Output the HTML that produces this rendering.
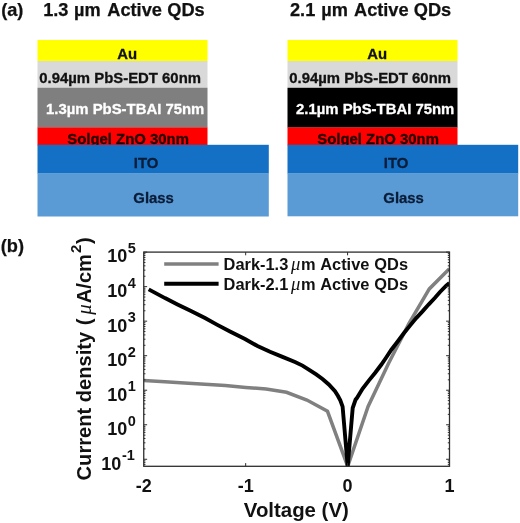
<!DOCTYPE html>
<html>
<head>
<meta charset="utf-8">
<title>Figure</title>
<style>
html,body{margin:0;padding:0;background:#fff;}
body{width:520px;height:523px;overflow:hidden;}
svg{display:block;}
text{font-family:"Liberation Sans",Arial,sans-serif;font-weight:bold;}
.lay{font-size:14.9px;stroke-width:0.3px;}
.ttl{font-size:18.2px;fill:#111;stroke:#111;stroke-width:0.25px;}
.tk{font-size:18px;fill:#111;}
.sup{font-size:14.5px;fill:#111;}
.lg{font-size:16.4px;fill:#111;}
.al{font-size:20.1px;fill:#111;}
.al2{font-size:20.4px;fill:#111;}
.sup2{font-size:14.8px;}
.mu{font-family:"Liberation Serif","DejaVu Serif",serif;font-style:italic;font-weight:normal;font-size:21px;}
.mu2{font-family:"Liberation Serif","DejaVu Serif",serif;font-style:italic;font-weight:normal;font-size:18.6px;}
</style>
</head>
<body>
<svg width="520" height="523" viewBox="0 0 520 523">
<rect x="0" y="0" width="520" height="523" fill="#ffffff"/>

<!-- titles -->
<text class="ttl" x="1.2" y="15.9">(a)</text>
<text class="ttl" y="15.9"><tspan x="43.2">1.3</tspan> <tspan x="74">µm</tspan> <tspan x="107.3">Active</tspan> <tspan x="167.3">QDs</tspan></text>
<text class="ttl" y="15.9"><tspan x="290">2.1</tspan> <tspan x="321.3">µm</tspan> <tspan x="354">Active</tspan> <tspan x="413.8">QDs</tspan></text>

<!-- left stack -->
<rect x="37.5" y="40" width="170" height="21.2" fill="#ffff00"/>
<rect x="37.5" y="61" width="170" height="27" fill="#d9d9d9"/>
<rect x="37.5" y="87.8" width="170" height="39.8" fill="#7f7f7f"/>
<rect x="37.5" y="127.4" width="170" height="18" fill="#ff0000"/>
<text class="lay" x="117.3" y="59" fill="#111" stroke="#111">Au</text>
<text class="lay" x="39.3" y="83" fill="#111" stroke="#111">0.94µm PbS-EDT 60nm</text>
<text class="lay" x="46" y="114" fill="#fff" stroke="#fff">1.3µm PbS-TBAI 75nm</text>
<text class="lay" x="67.3" y="143.6" fill="#240000" stroke="#240000">Solgel ZnO 30nm</text>
<rect x="37.5" y="144.8" width="231.3" height="28.8" fill="#1470c4"/>
<rect x="37.5" y="173.3" width="231.3" height="43.2" fill="#5b9bd5"/>
<text class="lay" x="133.8" y="168" fill="#0a1c38" stroke="#0a1c38">ITO</text>
<text class="lay" x="133.3" y="203" fill="#0a1c38" stroke="#0a1c38">Glass</text>

<!-- right stack -->
<rect x="287.5" y="40" width="170" height="21.2" fill="#ffff00"/>
<rect x="287.5" y="61" width="170" height="27" fill="#d9d9d9"/>
<rect x="287.5" y="87.8" width="170" height="39.8" fill="#000000"/>
<rect x="287.5" y="127.4" width="170" height="18" fill="#ff0000"/>
<text class="lay" x="367.3" y="59" fill="#111" stroke="#111">Au</text>
<text class="lay" x="289.3" y="83" fill="#111" stroke="#111">0.94µm PbS-EDT 60nm</text>
<text class="lay" x="296" y="114" fill="#fff" stroke="#fff">2.1µm PbS-TBAI 75nm</text>
<text class="lay" x="317.3" y="143.6" fill="#240000" stroke="#240000">Solgel ZnO 30nm</text>
<rect x="287.5" y="144.8" width="230.7" height="28.8" fill="#1470c4"/>
<rect x="287.5" y="173.3" width="230.7" height="43" fill="#5b9bd5"/>
<text class="lay" x="383.8" y="168" fill="#0a1c38" stroke="#0a1c38">ITO</text>
<text class="lay" x="383.3" y="203" fill="#0a1c38" stroke="#0a1c38">Glass</text>

<!-- (b) -->
<text class="ttl" x="0.8" y="251.6">(b)</text>

<!-- plot -->
<clipPath id="pc"><rect x="143.75" y="252.10" width="306.35" height="214.80"/></clipPath>
<g clip-path="url(#pc)" fill="none" stroke-linejoin="miter" stroke-miterlimit="10">
<path d="M143.8 380.6 L165.0 381.7 L184.5 382.9 L204.9 384.2 L225.3 385.6 L245.7 387.4 L266.1 389.0 L286.5 392.3 L306.9 400.0 L327.5 411.3 L347.7 466.4 L368.1 406.5 L388.5 363.5 L408.9 323.7 L429.3 288.9 L449.4 268.8" stroke="#808080" stroke-width="3.5"/>
<path d="M148.7 289.4 L165.0 298.1 L177.5 304.4 L190.0 310.6 L205.0 318.1 L216.9 324.6 L230.0 331.5 L245.0 339.0 L257.5 346.0 L270.0 351.7 L282.5 356.9 L295.0 362.0 L302.5 365.6 L308.8 369.6 L316.2 374.4 L322.5 379.0 L328.8 384.4 L335.0 391.2 L338.0 396.0 L340.3 400.4 L342.6 406.6 L347.7 466.4 L352.7 408.0 L355.6 399.6 L356.9 398.1 L362.5 388.8 L368.8 380.6 L375.0 373.0 L381.2 364.8 L386.2 357.5 L391.2 350.0 L397.5 341.7 L403.8 333.3 L410.0 325.6 L416.2 318.1 L422.5 311.4 L428.8 304.3 L435.0 297.8 L440.0 292.0 L446.2 285.6 L449.4 283.0" stroke="#000000" stroke-width="3.9"/>
</g>
<rect x="143.75" y="252.10" width="305.75" height="214.20" fill="none" stroke="#2e2e2e" stroke-width="1.3"/>
<path d="M143.75 459.28h3.4M449.50 459.28h-3.4M143.75 448.89h1.7M449.50 448.89h-1.7M143.75 442.81h1.7M449.50 442.81h-1.7M143.75 438.49h1.7M449.50 438.49h-1.7M143.75 435.14h1.7M449.50 435.14h-1.7M143.75 432.41h1.7M449.50 432.41h-1.7M143.75 430.10h1.7M449.50 430.10h-1.7M143.75 428.10h1.7M449.50 428.10h-1.7M143.75 426.33h1.7M449.50 426.33h-1.7M143.75 424.75h3.4M449.50 424.75h-3.4M143.75 414.36h1.7M449.50 414.36h-1.7M143.75 408.28h1.7M449.50 408.28h-1.7M143.75 403.96h1.7M449.50 403.96h-1.7M143.75 400.61h1.7M449.50 400.61h-1.7M143.75 397.88h1.7M449.50 397.88h-1.7M143.75 395.57h1.7M449.50 395.57h-1.7M143.75 393.57h1.7M449.50 393.57h-1.7M143.75 391.80h1.7M449.50 391.80h-1.7M143.75 390.22h3.4M449.50 390.22h-3.4M143.75 379.83h1.7M449.50 379.83h-1.7M143.75 373.75h1.7M449.50 373.75h-1.7M143.75 369.43h1.7M449.50 369.43h-1.7M143.75 366.08h1.7M449.50 366.08h-1.7M143.75 363.35h1.7M449.50 363.35h-1.7M143.75 361.04h1.7M449.50 361.04h-1.7M143.75 359.04h1.7M449.50 359.04h-1.7M143.75 357.27h1.7M449.50 357.27h-1.7M143.75 355.69h3.4M449.50 355.69h-3.4M143.75 345.30h1.7M449.50 345.30h-1.7M143.75 339.22h1.7M449.50 339.22h-1.7M143.75 334.90h1.7M449.50 334.90h-1.7M143.75 331.55h1.7M449.50 331.55h-1.7M143.75 328.82h1.7M449.50 328.82h-1.7M143.75 326.51h1.7M449.50 326.51h-1.7M143.75 324.51h1.7M449.50 324.51h-1.7M143.75 322.74h1.7M449.50 322.74h-1.7M143.75 321.16h3.4M449.50 321.16h-3.4M143.75 310.77h1.7M449.50 310.77h-1.7M143.75 304.69h1.7M449.50 304.69h-1.7M143.75 300.37h1.7M449.50 300.37h-1.7M143.75 297.02h1.7M449.50 297.02h-1.7M143.75 294.29h1.7M449.50 294.29h-1.7M143.75 291.98h1.7M449.50 291.98h-1.7M143.75 289.98h1.7M449.50 289.98h-1.7M143.75 288.21h1.7M449.50 288.21h-1.7M143.75 286.63h3.4M449.50 286.63h-3.4M143.75 276.24h1.7M449.50 276.24h-1.7M143.75 270.16h1.7M449.50 270.16h-1.7M143.75 265.84h1.7M449.50 265.84h-1.7M143.75 262.49h1.7M449.50 262.49h-1.7M143.75 259.76h1.7M449.50 259.76h-1.7M143.75 257.45h1.7M449.50 257.45h-1.7M143.75 255.45h1.7M449.50 255.45h-1.7M143.75 253.68h1.7M449.50 253.68h-1.7M143.75 252.10h3.4M449.50 252.10h-3.4M143.75 464.63h1.7M449.50 464.63h-1.7M143.75 462.63h1.7M449.50 462.63h-1.7M143.75 460.86h1.7M449.50 460.86h-1.7M245.67 466.30v-3.2M245.67 252.10v3.2M347.58 466.30v-3.2M347.58 252.10v3.2" stroke="#2e2e2e" stroke-width="1" fill="none"/>
<text class="tk" x="121.4" y="469.6" text-anchor="end">10</text><text class="sup" x="134.8" y="460.3" text-anchor="end">-1</text>
<text class="tk" x="127.4" y="435.1" text-anchor="end">10</text><text class="sup" x="135.8" y="425.8" text-anchor="end">0</text>
<text class="tk" x="127.4" y="400.5" text-anchor="end">10</text><text class="sup" x="135.8" y="391.2" text-anchor="end">1</text>
<text class="tk" x="127.4" y="366.0" text-anchor="end">10</text><text class="sup" x="135.8" y="356.7" text-anchor="end">2</text>
<text class="tk" x="127.4" y="331.5" text-anchor="end">10</text><text class="sup" x="135.8" y="322.2" text-anchor="end">3</text>
<text class="tk" x="127.4" y="296.9" text-anchor="end">10</text><text class="sup" x="135.8" y="287.6" text-anchor="end">4</text>
<text class="tk" x="127.4" y="262.4" text-anchor="end">10</text><text class="sup" x="135.8" y="253.1" text-anchor="end">5</text>
<text class="tk" x="143.8" y="492" text-anchor="middle">-2</text>
<text class="tk" x="245.7" y="492" text-anchor="middle">-1</text>
<text class="tk" x="347.6" y="492" text-anchor="middle">0</text>
<text class="tk" x="449.5" y="492" text-anchor="middle">1</text>
<text class="al2" x="243.8" y="517.2">Voltage (V)</text>
<text class="al" transform="translate(90.7 480.4) rotate(-90)"><tspan x="0">Current density</tspan> <tspan x="155.2">(</tspan><tspan class="mu" x="165.6">μ</tspan><tspan x="177.2">A/cm</tspan><tspan class="sup2" x="227.4" dy="-10">2</tspan><tspan x="236.3" dy="10">)</tspan></text>
<path d="M164.2 264H218.6" stroke="#808080" stroke-width="3.5"/>
<path d="M164.2 283.8H218.6" stroke="#000" stroke-width="3.9"/>
<text class="lg" y="269.8"><tspan x="223.6">Dark-1.3</tspan> <tspan class="mu2" x="291">μ</tspan><tspan x="300.9">m</tspan> <tspan x="320.2">Active</tspan> <tspan x="374.3">QDs</tspan></text>
<text class="lg" y="289.8"><tspan x="223.6">Dark-2.1</tspan> <tspan class="mu2" x="291">μ</tspan><tspan x="300.9">m</tspan> <tspan x="320.2">Active</tspan> <tspan x="374.3">QDs</tspan></text>
</svg>
</body>
</html>
